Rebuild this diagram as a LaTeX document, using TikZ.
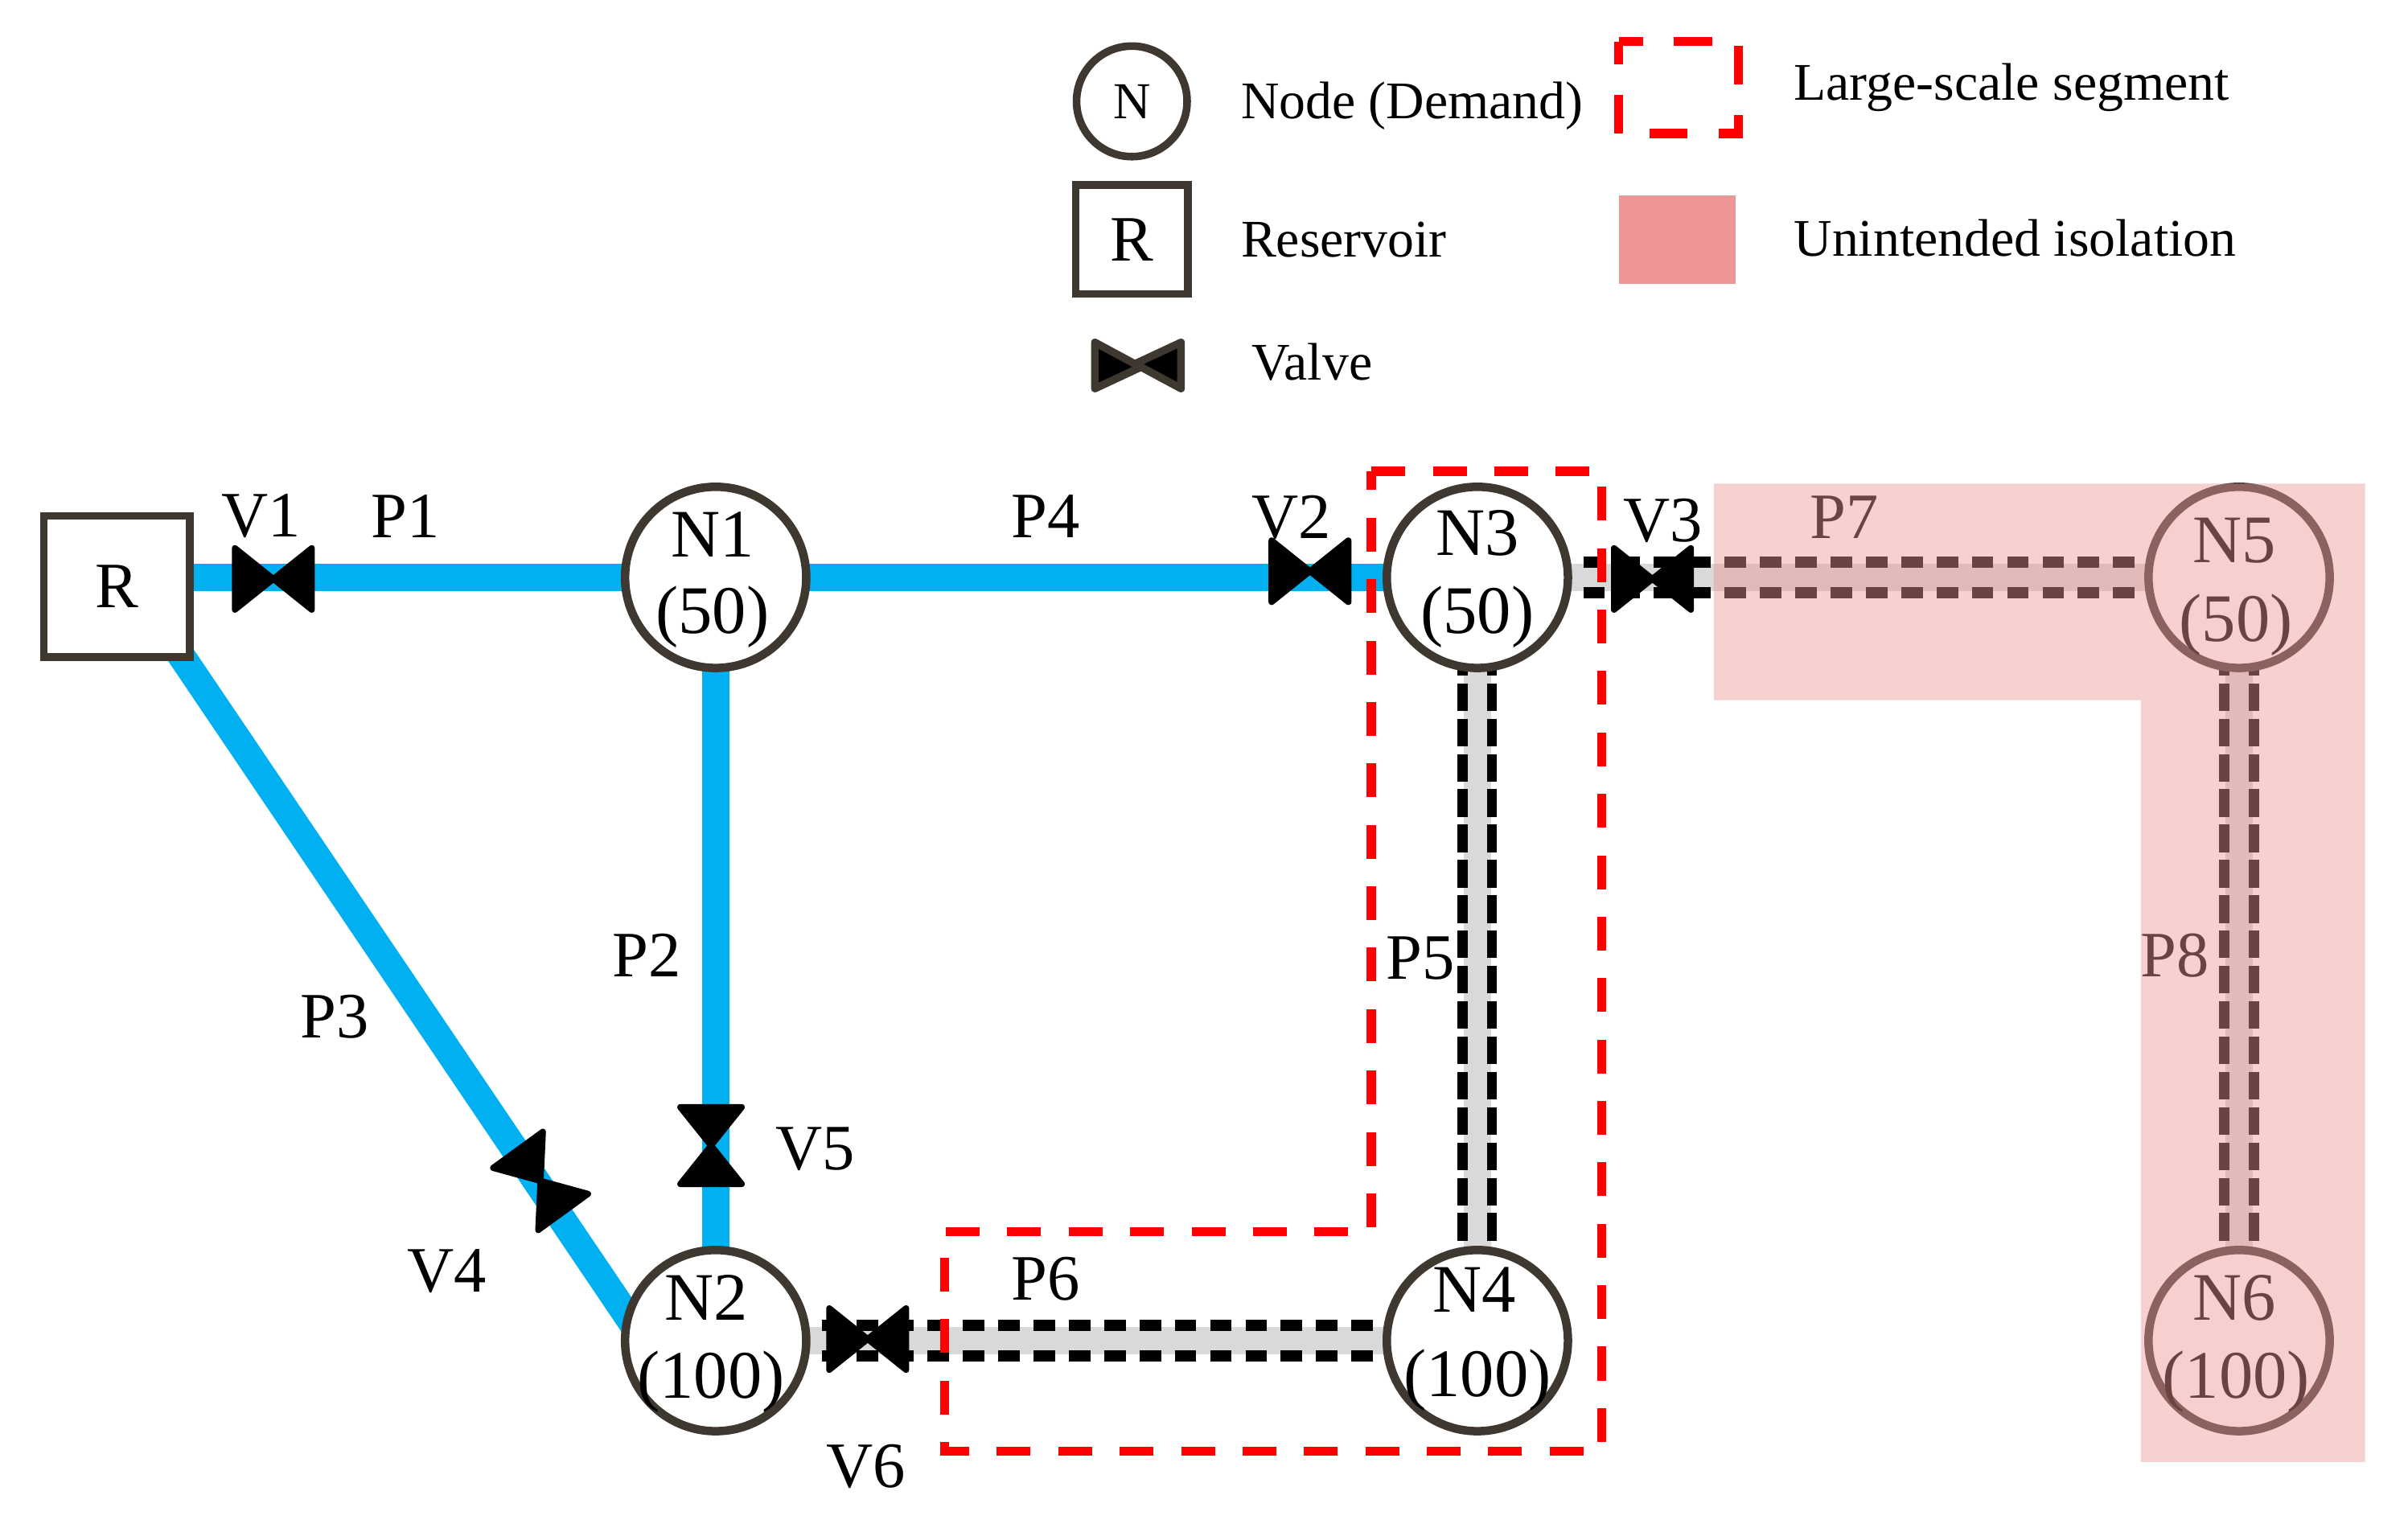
\documentclass[tikz,border=0pt]{standalone}
\usepackage{fontspec}
\setmainfont{Liberation Serif}
\definecolor{pipeblue}{HTML}{00B0F0}
\definecolor{edgebrown}{HTML}{3F3830}
\definecolor{isopink}{HTML}{EE9696}
\definecolor{pipegray}{HTML}{D9D9D9}
\newcommand{\pxw}{1.4226pt}
\tikzset{
  x=0.05cm,y=-0.05cm,
  junction/.style={circle,draw=edgebrown,fill=white,line width=5.5*\pxw,minimum size=118*\pxw,inner sep=0pt},
  legcircle/.style={circle,draw=edgebrown,fill=white,line width=5*\pxw,minimum size=72*\pxw,inner sep=0pt,font=\fontsize{48}{52}\selectfont},
  tank/.style={rectangle,draw=edgebrown,fill=white,line width=5*\pxw,minimum width=95*\pxw,minimum height=92*\pxw,inner sep=0pt,font=\fontsize{60}{64}\selectfont},
  legtank/.style={rectangle,draw=edgebrown,fill=white,line width=5*\pxw,minimum width=73*\pxw,minimum height=71*\pxw,inner sep=0pt,font=\fontsize{60}{64}\selectfont},
  lab/.style={inner sep=0pt,font=\fontsize{60}{64}\selectfont},
  nlab/.style={inner sep=0pt,font=\fontsize{63}{66}\selectfont},
  legtext/.style={inner sep=0pt,anchor=west,font=\fontsize{49}{52}\selectfont},
  bluepipe/.style={draw=pipeblue,line width=18*\pxw},
  graypipe/.style={draw=pipegray,line width=18*\pxw},
  dashpipe/.style={draw=black,line width=7*\pxw,dash pattern=on 14*\pxw off 9*\pxw},
  vdashpipe/.style={draw=black,line width=6.5*\pxw,dash pattern=on 18*\pxw off 5*\pxw},
  reddash/.style={draw=red,line width=6*\pxw,dash pattern=on 22*\pxw off 18*\pxw},
  valve/.pic={\filldraw[black,line width=4*\pxw,line join=round] (-25,-20)--(25,20)--(25,-20)--(-25,20)--cycle;},
  legvalve/.pic={\filldraw[fill=black,draw=edgebrown,line width=5*\pxw,line join=round] (-28,-15)--(-2,-1)--(28,-15)--(28,15)--(2,1)--(-28,15)--cycle;},
}
\begin{document}
\begin{tikzpicture}
\useasboundingbox (0,0) rectangle (1568,992);

% junctions are placed first (as names), pipes go behind them
\coordinate (c1) at (466,376);
\coordinate (c2) at (466,873);
\coordinate (c3) at (962,376);
\coordinate (c4) at (962,873);
\coordinate (c5) at (1458,376);
\coordinate (c6) at (1458,873);
\coordinate (cr) at (76,382);
\coordinate (p3s) at (116,424);
\coordinate (p3e) at (416,868);

% supplied pipes
\draw[bluepipe] (76,376) -- (c1);
\draw[bluepipe] (c1) -- (c3);
\draw[bluepipe] (c1) -- (c2);
\draw[bluepipe] (p3s) -- (p3e);

% isolated pipes
\draw[graypipe] (c3) -- (c5);
\draw[graypipe] (c3) -- (c4);
\draw[graypipe] (c2) -- (c4);
\draw[graypipe] (c5) -- (c6);
\foreach \a/\b in {c3/c5,c2/c4}{
  \draw[dashpipe] ([yshift=0.5cm]\a) -- ([yshift=0.5cm]\b);
  \draw[dashpipe] ([yshift=-0.5cm]\a) -- ([yshift=-0.5cm]\b);
}
\foreach \a/\b in {c3/c4,c5/c6}{
  \draw[vdashpipe] ([xshift=0.48cm]\a) -- ([xshift=0.48cm]\b);
  \draw[vdashpipe] ([xshift=-0.48cm]\a) -- ([xshift=-0.48cm]\b);
}

% large-scale segment
\draw[reddash] (893,307) -- (1043,307) -- (1043,945) -- (615,945) -- (615,802) -- (893,802) -- cycle;

% nodes
\node[tank] (r) at (cr) {R};
\node[junction] (n1) at (c1) {};
\node[junction] (n2) at (c2) {};
\node[junction] (n3) at (c3) {};
\node[junction] (n4) at (c4) {};
\node[junction] (n5) at (c5) {};
\node[junction] (n6) at (c6) {};

\node[nlab] (n1a) at (464,348) {N1};
\node[nlab] (n1b) at (464,402) {(50)};
\node[nlab] (n2a) at (460,845) {N2};
\node[nlab] (n2b) at (463,900) {(100)};
\node[nlab] (n3a) at (962,347) {N3};
\node[nlab] (n3b) at (962,402) {(50)};
\node[nlab] (n4a) at (960,840) {N4};
\node[nlab] (n4b) at (962,899) {(100)};
\node[nlab] (n5a) at (1455,352) {N5};
\node[nlab] (n5b) at (1456,407) {(50)};
\node[nlab] (n6a) at (1455,845) {N6};
\node[nlab] (n6b) at (1456,900) {(100)};

% valves
\pic at (178,377) {valve};
\pic at (853,372) {valve};
\pic at (1076,377) {valve};
\pic[rotate=-54] at (352,769) {valve};
\pic[rotate=90] at (463,746) {valve};
\pic at (565,872) {valve};

% labels
\node[lab] (v1) at (170,336) {V1};
\node[lab] (p1) at (264,336) {P1};
\node[lab] (p4) at (681,336) {P4};
\node[lab] (v2) at (841,337) {V2};
\node[lab] (v3) at (1083,339) {V3};
\node[lab] (p7) at (1201,337) {P7};
\node[lab] (p2) at (421,622) {P2};
\node[lab] (p3) at (218,662) {P3};
\node[lab] (v4) at (291,828) {V4};
\node[lab] (v5) at (531,748) {V5};
\node[lab] (p5) at (925,624) {P5};
\node[lab] (p8) at (1416,622) {P8};
\node[lab] (p6) at (681,833) {P6};
\node[lab] (v6) at (564,955) {V6};

% legend
\node[legcircle] (ln) at (737,66) {N};
\node[legtext] (ln1) at (808,69) {Node (Demand)};
\node[legtank] (lr) at (737,156) {R};
\node[legtext] (lr1) at (808,156) {Reservoir};
\pic at (741,238) {legvalve};
\node[legtext] (lv1) at (815,236) {Valve};
\draw[reddash,dash pattern=on 25*\pxw off 20*\pxw,dash phase=10*\pxw] (1054,27) rectangle (1132,87);
\node[legtext] (ls1) at (1168,57) {Large-scale segment};
\fill[isopink] (1054,127) rectangle (1130,185);
\node[legtext] (lu1) at (1168,155) {Unintended isolation};

% unintended isolation overlay
\fill[isopink,fill opacity=0.45] (1116,315) -- (1540,315) -- (1540,952) -- (1394,952) -- (1394,456) -- (1116,456) -- cycle;
\end{tikzpicture}
\end{document}
